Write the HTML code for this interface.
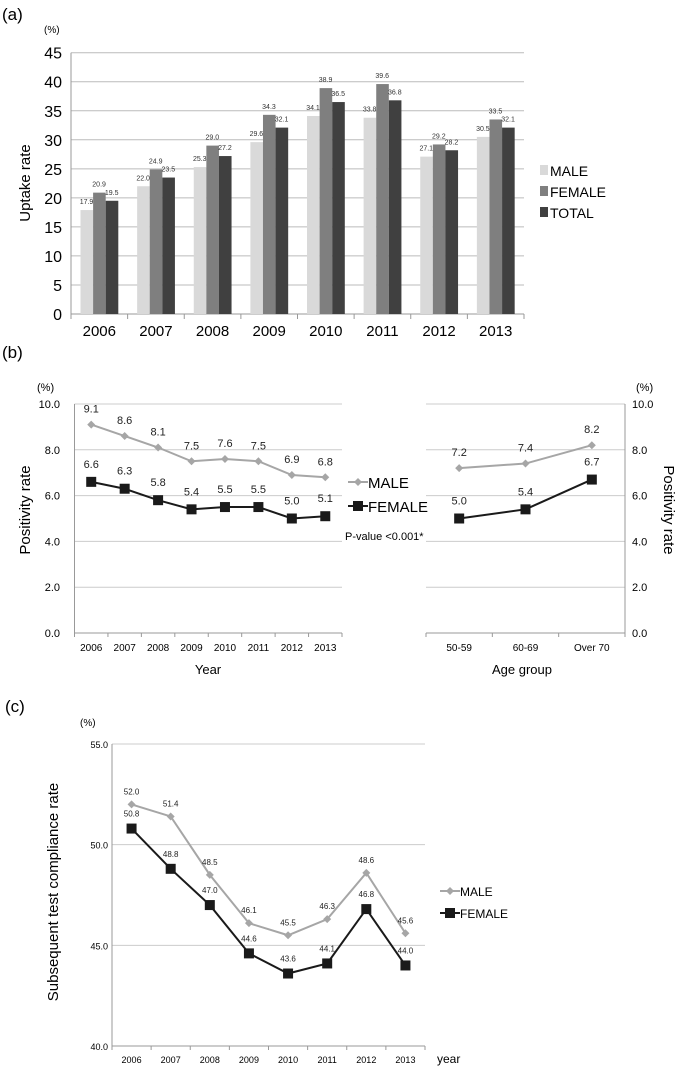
<!DOCTYPE html>
<html><head><meta charset="utf-8"><style>
body{margin:0;background:#fff;width:675px;height:1067px;overflow:hidden}
svg{display:block;font-family:"Liberation Sans",sans-serif}
</style></head><body>
<svg id="s" width="675" height="1067">
<text x="2" y="20" font-size="17">(a)</text>
<text x="44" y="33" font-size="10">(%)</text>
<text transform="translate(30,183) rotate(-90)" text-anchor="middle" font-size="15">Uptake rate</text>
<text x="2" y="358" font-size="17">(b)</text>
<text x="37" y="391" font-size="11">(%)</text>
<text x="636" y="391" font-size="11">(%)</text>
<text transform="translate(30,510) rotate(-90)" text-anchor="middle" font-size="15">Positivity rate</text>
<text transform="translate(664,510) rotate(90)" text-anchor="middle" font-size="15">Positivity rate</text>
<text x="208" y="674" text-anchor="middle" font-size="13">Year</text>
<text x="522" y="674" text-anchor="middle" font-size="13">Age group</text>
<text x="345" y="540" font-size="11">P-value &lt;0.001*</text>
<text x="5" y="712" font-size="17">(c)</text>
<text x="80" y="726" font-size="10">(%)</text>
<text transform="translate(58,892) rotate(-90)" text-anchor="middle" font-size="15">Subsequent test compliance rate</text>
<text x="437" y="1063" font-size="12">year</text>
</svg>
<script>
const years=["2006","2007","2008","2009","2010","2011","2012","2013"];
const upMale=[17.9,22.0,25.3,29.6,34.1,33.8,27.1,30.5];
const upFemale=[20.9,24.9,29.0,34.3,38.9,39.6,29.2,33.5];
const upTotal=[19.5,23.5,27.2,32.1,36.5,36.8,28.2,32.1];
const upTicks=[0,5,10,15,20,25,30,35,40,45];
const posMaleYear=[9.1,8.6,8.1,7.5,7.6,7.5,6.9,6.8];
const posFemaleYear=[6.6,6.3,5.8,5.4,5.5,5.5,5.0,5.1];
const ages=["50-59","60-69","Over 70"];
const posMaleAge=[7.2,7.4,8.2];
const posFemaleAge=[5.0,5.4,6.7];
const posTicks=[0,2,4,6,8,10];
const compMale=[52.0,51.4,48.5,46.1,45.5,46.3,48.6,45.6];
const compFemale=[50.8,48.8,47.0,44.6,43.6,44.1,46.8,44.0];
const compTicks=[40,45,50,55];

const S=document.getElementById('s');
function el(t,a,txt){const e=document.createElementNS('http://www.w3.org/2000/svg',t);for(const k in a)e.setAttribute(k,a[k]);if(txt!==undefined)e.textContent=txt;S.appendChild(e);return e;}
function lin(d0,d1,r0,r1){return v=>r0+(v-d0)/(d1-d0)*(r1-r0);}

// Panel A
{const x0=71,x1=524,y=lin(0,45,314,52.7),bw=(x1-x0)/years.length;
upTicks.forEach(t=>{const g=el('line',{x1:x0,x2:x1,y1:y(t),y2:y(t),stroke:t?'#bbb':'#999'});
const l=el('text',{x:x0-9,y:y(t)+6,'text-anchor':'end','font-size':16},t);});
el('line',{x1:x0,x2:x0,y1:y(45),y2:y(0),stroke:'#999'});
const series=[[upMale,'#d9d9d9','male'],[upFemale,'#7f7f7f','female'],[upTotal,'#404040','total']];
years.forEach((yr,i)=>{const bx=x0+i*bw+9.5;
series.forEach((s,j)=>{const v=s[0][i];const r=el('rect',{x:bx+j*12.6,y:y(v),width:12.6,height:y(0)-y(v),fill:s[1]});

const t=el('text',{x:bx+j*12.6+6,y:y(v)-6,'text-anchor':'middle','font-size':7,fill:'#333'},v.toFixed(1));});
const l=el('text',{x:x0+(i+.5)*bw,y:336,'text-anchor':'middle','font-size':15},yr);
el('line',{x1:x0+i*bw,x2:x0+i*bw,y1:314,y2:319,stroke:'#999'});});
el('line',{x1:x1,x2:x1,y1:314,y2:319,stroke:'#999'});
[['MALE','#d9d9d9'],['FEMALE','#7f7f7f'],['TOTAL','#404040']].forEach((g,k)=>{const yy=165+k*21;
const r=el('rect',{x:540,y:yy,width:8,height:10,fill:g[1]});
const t=el('text',{x:550,y:yy+11,'font-size':14},g[0]);});}

function marker(type,x,y,color,name){let m;
if(type==='d'){m=el('polygon',{points:`${x},${y-4} ${x+4},${y} ${x},${y+4} ${x-4},${y}`,fill:color});}
else{m=el('rect',{x:x-5,y:y-5,width:10,height:10,fill:color});}
}
function series(xs,vals,y,color,w,type,name,fs,lblOff){
const p=el('polyline',{points:vals.map((v,i)=>xs[i]+','+y(v)).join(' '),fill:'none',stroke:color,'stroke-width':w});

vals.forEach((v,i)=>{marker(type,xs[i],y(v),color,name+'-point');
const t=el('text',{x:xs[i],y:y(v)-lblOff,'text-anchor':'middle','font-size':fs,fill:'#222'},v.toFixed(1));});}

// Panel B
{const y=lin(0,10,633,404);
const L0=74.5,L1=342,R0=426,R1=625;
posTicks.forEach(t=>{[[L0,L1],[R0,R1]].forEach(r=>{const g=el('line',{x1:r[0],x2:r[1],y1:y(t),y2:y(t),stroke:t?'#ccc':'#999'});});
const a=el('text',{x:60,y:y(t)+4,'text-anchor':'end','font-size':11},t.toFixed(1));
const b=el('text',{x:632,y:y(t)+4,'font-size':11},t.toFixed(1));});
el('line',{x1:L0,x2:L0,y1:y(10),y2:y(0),stroke:'#999'});el('line',{x1:R1,x2:R1,y1:y(10),y2:y(0),stroke:'#999'});
const bw=(L1-L0)/years.length,xs=years.map((_,i)=>L0+(i+.5)*bw);
years.forEach((yr,i)=>{const t=el('text',{x:xs[i],y:651,'text-anchor':'middle','font-size':10},yr);});
for(let i=0;i<=years.length;i++)el('line',{x1:L0+i*bw,x2:L0+i*bw,y1:633,y2:637,stroke:'#999'});
const aw=(R1-R0)/ages.length,xa=ages.map((_,i)=>R0+(i+.5)*aw);
ages.forEach((a,i)=>{const t=el('text',{x:xa[i],y:651,'text-anchor':'middle','font-size':10},a);});
for(let i=0;i<=ages.length;i++)el('line',{x1:R0+i*aw,x2:R0+i*aw,y1:633,y2:637,stroke:'#999'});
series(xs,posMaleYear,y,'#a6a6a6',2,'d','male-year',11,12);
series(xs,posFemaleYear,y,'#1a1a1a',2,'s','female-year',11,14);
series(xa,posMaleAge,y,'#a6a6a6',2,'d','male-age',11,12);
series(xa,posFemaleAge,y,'#1a1a1a',2,'s','female-age',11,14);
el('line',{x1:348,x2:368,y1:482,y2:482,stroke:'#a6a6a6','stroke-width':2});marker('d',358,482,'#a6a6a6','legend-marker-male');
let t=el('text',{x:368,y:488,'font-size':15},'MALE');
el('line',{x1:348,x2:368,y1:506,y2:506,stroke:'#1a1a1a','stroke-width':2});marker('s',358,506,'#1a1a1a','legend-marker-female');
t=el('text',{x:368,y:512,'font-size':15},'FEMALE');}

// Panel C
{const y=lin(40,55,1046,744),x0=112,x1=425,bw=(x1-x0)/years.length,xs=years.map((_,i)=>x0+(i+.5)*bw);
compTicks.forEach(t=>{const g=el('line',{x1:x0,x2:x1,y1:y(t),y2:y(t),stroke:t>40?'#ccc':'#999'});
const l=el('text',{x:x0-4,y:y(t)+4,'text-anchor':'end','font-size':9},t.toFixed(1));});
el('line',{x1:x0,x2:x0,y1:y(55),y2:y(40),stroke:'#999'});
years.forEach((yr,i)=>{const t=el('text',{x:xs[i],y:1063,'text-anchor':'middle','font-size':9},yr);});
for(let i=0;i<=years.length;i++)el('line',{x1:x0+i*bw,x2:x0+i*bw,y1:1046,y2:1050,stroke:'#999'});
series(xs,compMale,y,'#a6a6a6',2,'d','male-compliance',8,10);
series(xs,compFemale,y,'#1a1a1a',2,'s','female-compliance',8,12);
el('line',{x1:440,x2:460,y1:891,y2:891,stroke:'#a6a6a6','stroke-width':2});marker('d',450,891,'#a6a6a6','legend-marker-male-c');
let t=el('text',{x:460,y:896,'font-size':12},'MALE');
el('line',{x1:440,x2:460,y1:913,y2:913,stroke:'#1a1a1a','stroke-width':2});marker('s',450,913,'#1a1a1a','legend-marker-female-c');
t=el('text',{x:460,y:918,'font-size':12},'FEMALE');}
</script>
</body></html>
